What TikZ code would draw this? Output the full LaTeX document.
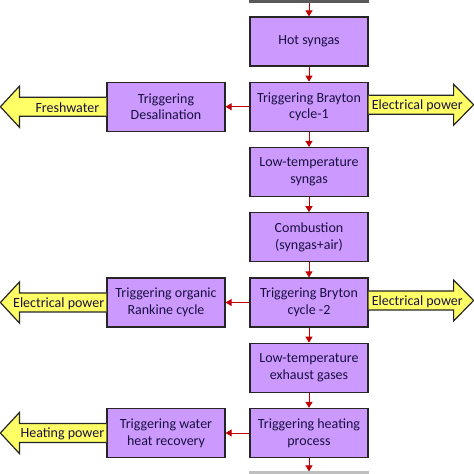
\documentclass[tikz,border=0pt]{standalone}
\usepackage{fontspec}
\setmainfont{Carlito}
\usetikzlibrary{arrows.meta}
\definecolor{boxfill}{RGB}{204,153,255}
\definecolor{arrowfill}{RGB}{255,255,102}
\definecolor{flowred}{RGB}{192,0,0}
\definecolor{txtnavy}{RGB}{26,16,64}
\tikzset{
  stage/.style={draw=black!85, line width=1.2pt, fill=boxfill, text=txtnavy,
    minimum width=118pt, minimum height=49pt, align=center,
    inner sep=1pt, font=\fontsize{14}{16.7}\selectfont},
  flow/.style={draw=flowred, line width=0.9pt, -{Triangle[width=7pt,length=6pt]}},
  bigarrow/.style={draw=black!85, line width=1.2pt, fill=arrowfill},
  outtext/.style={text=txtnavy, inner sep=0pt, font=\fontsize{14}{16.7}\selectfont}
}
\begin{document}
\begin{tikzpicture}[x=1pt,y=1pt]
  \useasboundingbox[fill=white] (0,0) rectangle (474,474);
  \clip (0,0) rectangle (474,474);

  % Hauptkette
  \node[stage, fill=black!65, draw=black!65] (prev) at (309,496.5) {};
  \foreach \nm/\txt/\y in {hot/Hot syngas/432.5,
      bray1/Triggering Brayton\\cycle-1/367.25,
      ltsyn/Low-temperature\\syngas/302,
      comb/Combustion\\(syngas+air)/236.75,
      bray2/Triggering Bryton\\cycle -2/171.5,
      exh/Low-temperature\\exhaust gases/106.25,
      heat/Triggering heating\\process/41} {
    \node[stage] (\nm) at (309,\y) {\txt};
  }
  \node[stage, fill=black!25, draw=black!25] (next) at (309,-22.5) {};

  % Nebenprozesse
  \node[stage] (desal) at (166,367.25) {Triggering\\Desalination};
  \node[stage] (orc) at (166,171.5) {Triggering organic\\Rankine cycle};
  \node[stage] (whr) at (166,41) {Triggering water\\heat recovery};

  % Pfeile
  \foreach \a/\b in {prev/hot, hot/bray1, bray1/ltsyn, ltsyn/comb, comb/bray2,
      bray2/exh, exh/heat, heat/next} {
    \draw[flow] (\a) -- (\b);
  }
  \foreach \a/\b in {bray1/desal, bray2/orc, heat/whr} {
    \draw[flow] (\a) -- (\b);
  }

  % Ausgaenge links
  \foreach \nm in {desal, orc, whr} {
    \draw[bigarrow] ([yshift=9.5pt]\nm.west) -- ++(-87,0) -- ++(0,11)
      -- ++(-19,-20.5) -- ++(19,-20.5) -- ++(0,11) -- ([yshift=-9.5pt]\nm.west);
  }
  % Ausgaenge rechts
  \foreach \nm in {bray1, bray2} {
    \draw[bigarrow] ([yshift=11.5pt]\nm.east) -- ++(85,0) -- ++(0,11)
      -- ++(20,-20.5) -- ++(-20,-20.5) -- ++(0,11) -- ([yshift=-7.5pt]\nm.east);
  }
  \node[outtext, anchor=east] (fresh) at ([xshift=-7pt,yshift=-1pt]desal.west) {Freshwater};
  \node[outtext, anchor=east] (elecl) at ([xshift=-2pt,yshift=-1pt]orc.west) {Electrical power};
  \node[outtext, anchor=east] (heatp) at ([xshift=-2pt,yshift=-1pt]whr.west) {Heating power};
  \node[outtext, anchor=west] (elec1) at ([xshift=3pt,yshift=1pt]bray1.east) {Electrical power};
  \node[outtext, anchor=west] (elec2) at ([xshift=3pt,yshift=1pt]bray2.east) {Electrical power};
\end{tikzpicture}
\end{document}
